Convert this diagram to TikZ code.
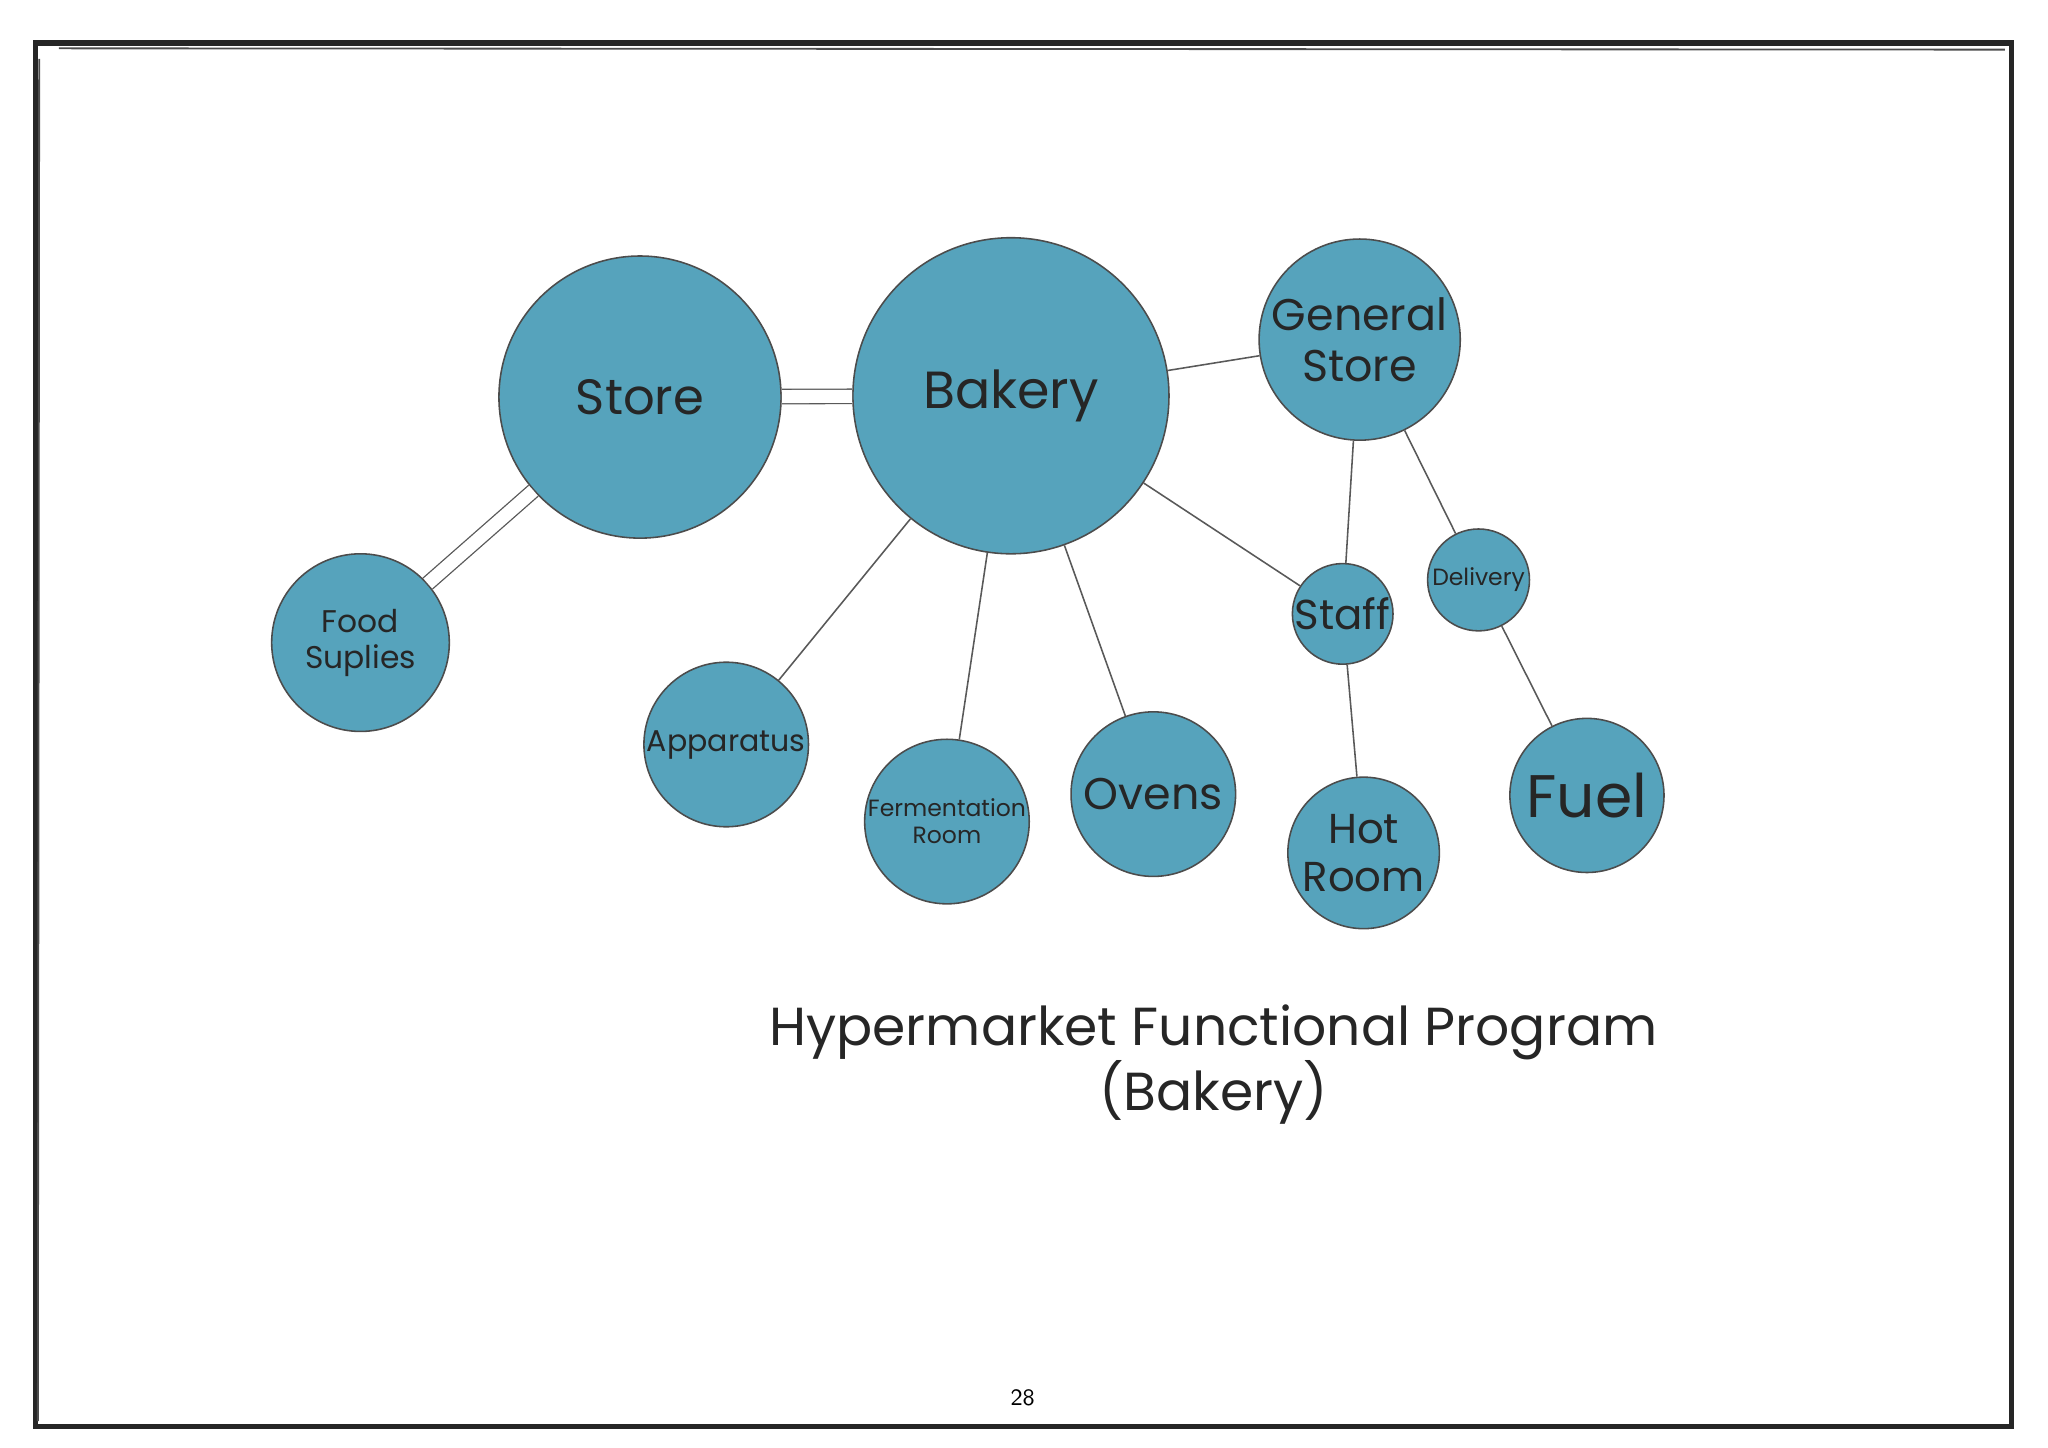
\documentclass[tikz,border=0pt]{standalone}
\usepackage{fontspec}
\setmainfont{Poppins}
\begin{document}
\begin{tikzpicture}[x=0.5pt,y=-0.5pt,
 bub/.style={circle,draw=black!70,line width=0.6pt,fill=bubcol,inner sep=0pt,align=center,text=black!85,font=\fontsize{#1}{1.15\dimexpr#1pt\relax}\selectfont},
 link/.style={draw=black!65,line width=0.6pt},
 dlink/.style={draw=black!65,line width=0.5pt,double=white,double distance=5pt}]
\definecolor{bubcol}{HTML}{56A3BC}
\useasboundingbox (0,0) rectangle (1568,1108);
\draw[line width=2pt,black!85] (27,33) -- (1540,33) -- (1540,1092) -- (27,1092) -- cycle;
\draw[line width=0.7pt,black!70] (45,37) -- (1535,38);
\draw[line width=0.7pt,black!70] (30,45) -- (29,1088);
\node[bub=19,minimum size=108pt] (store) at (490,304) {Store};
\node[bub=20,minimum size=121pt] (bakery) at (774,303) {Bakery};
\node[bub=17,minimum size=77pt] (gen) at (1041,260) {General\\Store};
\node[bub=12,minimum size=68pt] (food) at (276,492) {Food\\Suplies};
\node[bub=11.5,minimum size=63pt] (app) at (556,570) {Apparatus};
\node[bub=9,minimum size=63pt] (ferm) at (725,629) {Fermentation\\Room};
\node[bub=17,minimum size=63pt] (ovens) at (883,608) {Ovens};
\node[bub=16,minimum size=38pt] (staff) at (1028,470) {Staff};
\node[bub=9,minimum size=39pt] (del) at (1132,444) {Delivery};
\node[bub=16,minimum size=58pt] (hot) at (1044,653) {Hot\\Room};
\node[bub=23,minimum size=59pt] (fuel) at (1215,609) {Fuel};
\path[dlink] (store) -- (bakery);
\path[dlink] (store) -- (food);
\path[link] (bakery) -- (gen);
\path[link] (bakery) -- (app);
\path[link] (bakery) -- (ferm);
\path[link] (bakery) -- (ovens);
\path[link] (bakery) -- (staff);
\path[link] (gen) -- (staff);
\path[link] (gen) -- (del);
\path[link] (staff) -- (hot);
\path[link] (del) -- (fuel);
\node[align=center,text=black!85,font=\fontsize{20.5}{25}\selectfont] (title) at (929,815) {Hypermarket Functional Program\\(Bakery)};
\node[font=\fontsize{9}{10}\selectfont\sffamily] (pg) at (783,1070) {28};
\end{tikzpicture}
\end{document}
